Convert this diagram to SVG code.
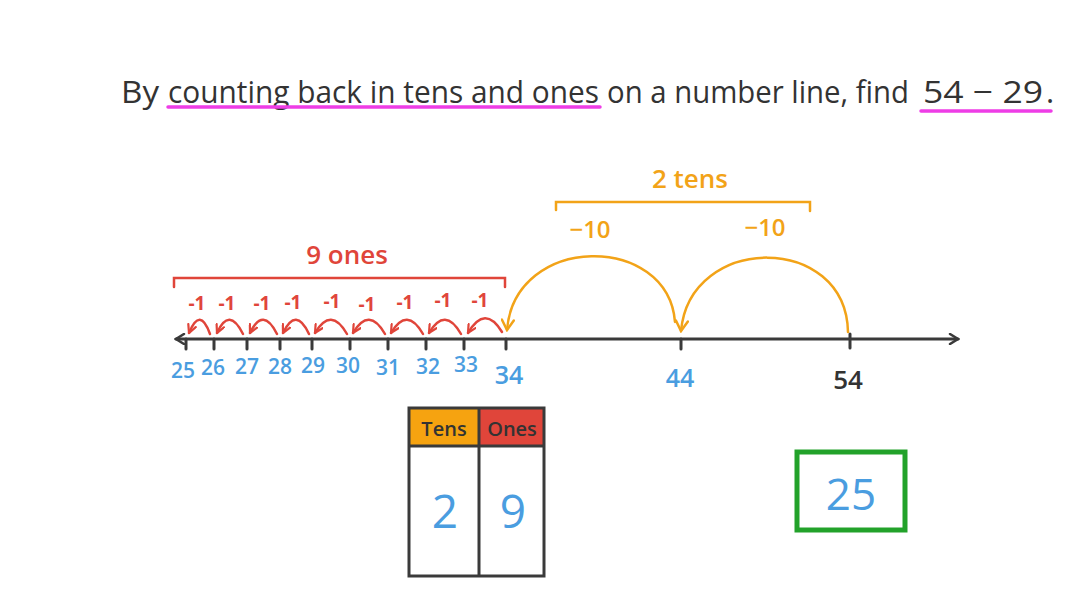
<svg xmlns="http://www.w3.org/2000/svg" width="1088" height="612" viewBox="0 0 1088 612">
<style>
.t{font-family:"Open Sans","Liberation Sans",sans-serif;}
.title{font-size:31px;fill:#333;}
.blue{fill:#4a9de0;}
.num{font-size:21px;text-anchor:middle;font-weight:600;}
.red{fill:#e0453a;}
.org{fill:#f2a318;}
.ax{stroke:#3a3a3a;stroke-width:3;fill:none;stroke-linecap:round;}
.rarc{stroke:#e0453a;stroke-width:2.5;fill:none;stroke-linecap:round;}
.oarc{stroke:#f2a318;stroke-width:2.5;fill:none;stroke-linecap:round;}
.ul{stroke:#ee3de6;stroke-width:3.5;fill:none;stroke-linecap:round;}
</style>
<defs>
<marker id="axA" viewBox="0 0 12 12" refX="10" refY="6" markerWidth="12" markerHeight="12" markerUnits="userSpaceOnUse" orient="auto-start-reverse"><path d="M2,1 L10,6 L2,11" fill="none" stroke="#3a3a3a" stroke-width="2.5" stroke-linecap="round"/></marker>
<marker id="oA" viewBox="0 0 14 14" refX="12" refY="7" markerWidth="14" markerHeight="14" markerUnits="userSpaceOnUse" orient="auto"><path d="M2,1 L12,7 L2,13" fill="none" stroke="#f2a318" stroke-width="2.5" stroke-linecap="round"/></marker>
<marker id="rA" viewBox="0 0 10 10" refX="9" refY="5" markerWidth="10" markerHeight="10" markerUnits="userSpaceOnUse" orient="auto"><path d="M1,1 L9,5 L1,9" fill="none" stroke="#e0453a" stroke-width="2.2" stroke-linecap="round"/></marker>
</defs>
<rect width="1088" height="612" fill="#fff"/>

<g id="title" class="t title">
<text x="121" y="103" textLength="38" lengthAdjust="spacingAndGlyphs">By</text>
<text x="168" y="103" textLength="431" lengthAdjust="spacingAndGlyphs">counting back in tens and ones</text>
<text x="607" y="103" textLength="302" lengthAdjust="spacingAndGlyphs">on a number line, find</text>
<text x="923" y="103" textLength="120" lengthAdjust="spacingAndGlyphs">54 − 29</text>
<text x="1046" y="103">.</text>
<path class="ul" d="M168,107 L600,107"/>
<path class="ul" d="M921,111 L1051,111"/>
</g>

<g id="numberline">
<path class="ax" d="M176,339 L958,339" marker-start="url(#axA)" marker-end="url(#axA)"/>
<g class="ax">
<path d="M186,339 V349"/><path d="M214,339 V349"/><path d="M247,339 V349"/><path d="M280,339 V349"/><path d="M312,339 V349"/><path d="M350,339 V349"/><path d="M388,339 V349"/><path d="M426,339 V349"/><path d="M464,339 V349"/><path d="M506,339 V349"/><path d="M681,339 V349"/><path d="M850,334 V348"/>
</g>
<g class="t num blue">
<text x="183" y="378">25</text><text x="213" y="375">26</text><text x="247" y="374">27</text><text x="280" y="374">28</text><text x="313" y="373">29</text><text x="348" y="373">30</text><text x="388" y="375">31</text><text x="428" y="374">32</text><text x="466" y="372">33</text>
<text x="509" y="384" style="font-size:25px">34</text>
<text x="680" y="387" style="font-size:25px">44</text>
<text x="848" y="389" style="font-size:26px;fill:#333">54</text>
</g>
</g>

<g id="ones">
<path class="rarc" d="M174,287 V278 H505 V287"/>
<text class="t red" x="347" y="264" style="font-size:26px;text-anchor:middle;font-weight:600">9 ones</text>
<g class="rarc">
<path d="M210,334 Q200,306 189,333" marker-end="url(#rA)"/>
<path d="M243,334 Q229,306 217,333" marker-end="url(#rA)"/>
<path d="M277,334 Q263,306 250,333" marker-end="url(#rA)"/>
<path d="M309,334 Q296,306 283,333" marker-end="url(#rA)"/>
<path d="M347,334 Q331,306 315,333" marker-end="url(#rA)"/>
<path d="M385,334 Q369,306 353,333" marker-end="url(#rA)"/>
<path d="M423,334 Q407,306 391,333" marker-end="url(#rA)"/>
<path d="M461,334 Q445,306 429,333" marker-end="url(#rA)"/>
<path d="M502,332 Q485,304 468,333" marker-end="url(#rA)"/>
</g>
<g class="t red" style="font-size:19px;text-anchor:middle;font-weight:700">
<text x="197" y="310">-1</text><text x="227" y="310">-1</text><text x="262" y="310">-1</text><text x="293" y="309">-1</text><text x="332" y="308">-1</text><text x="367" y="311">-1</text><text x="405" y="309">-1</text><text x="443" y="307">-1</text><text x="480" y="307">-1</text>
</g>
</g>

<g id="tens">
<path class="oarc" d="M556,210 V202 H810 V211"/>
<text class="t org" x="690" y="188" style="font-size:26px;text-anchor:middle;font-weight:600">2 tens</text>
<text class="t org" x="590" y="238" style="font-size:24px;text-anchor:middle;font-weight:600">−10</text>
<text class="t org" x="765" y="236" style="font-size:24px;text-anchor:middle;font-weight:600">−10</text>
<path class="oarc" d="M848,332 C846,233 690,233 681,331" marker-end="url(#oA)"/>
<path class="oarc" d="M675,322 C668,233 515,233 507,330" marker-end="url(#oA)"/>
</g>

<g id="table">
<rect x="410" y="409" width="69" height="37" fill="#f6a310"/>
<rect x="480" y="409" width="63" height="37" fill="#e0453a"/>
<rect x="409" y="408" width="135" height="168" fill="none" stroke="#3a3a3a" stroke-width="3"/>
<path d="M409,446 H544 M479,408 V576" stroke="#3a3a3a" stroke-width="3" fill="none"/>
<text class="t" x="444" y="436" style="font-size:20px;text-anchor:middle;fill:#333;font-weight:600">Tens</text>
<text class="t" x="512" y="436" style="font-size:20px;text-anchor:middle;fill:#333;font-weight:600">Ones</text>
<text class="t blue" x="445" y="528" style="font-size:46px;text-anchor:middle">2</text>
<text class="t blue" x="513" y="528" style="font-size:46px;text-anchor:middle">9</text>
</g>

<g id="answer">
<rect x="797" y="452" width="108" height="78" fill="none" stroke="#22a22a" stroke-width="5"/>
<text class="t blue" x="851" y="510" style="font-size:44px;text-anchor:middle">25</text>
</g>
</svg>
